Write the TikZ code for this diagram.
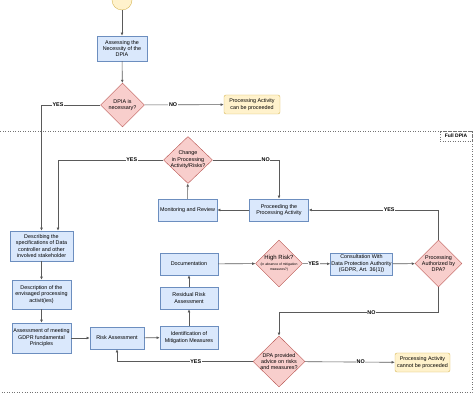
\documentclass[tikz,border=0pt]{standalone}
\usepackage{fontspec}
\setmainfont{Liberation Sans}
\usetikzlibrary{shapes.geometric,arrows.meta}
\definecolor{boxfill}{RGB}{218,232,252}
\definecolor{boxline}{RGB}{108,142,191}
\definecolor{decfill}{RGB}{248,206,204}
\definecolor{decline}{RGB}{184,84,80}
\definecolor{yelfill}{RGB}{255,242,204}
\definecolor{yelline}{RGB}{214,182,86}
\definecolor{linegray}{RGB}{90,90,90}
\tikzset{
  box/.style   ={rectangle, draw=boxline, fill=boxfill, align=center, inner sep=1pt,
                 minimum width=58pt, minimum height=22pt},
  ybox/.style  ={rectangle, rounded corners=2pt, draw=yelline, fill=yelfill, align=center,
                 inner sep=1pt, minimum width=56pt, minimum height=19pt},
  dec/.style   ={diamond, aspect=1, draw=decline, fill=decfill, align=center, inner sep=-6pt},
  flow/.style  ={-{Latex[length=3.2pt,width=2.8pt]}, line width=0.6pt, draw=linegray},
  lbl/.style   ={font=\fontsize{5.4}{6}\selectfont\bfseries, fill=white, inner sep=0.6pt},
  frame/.style ={dotted, draw=black!55, line width=0.5pt}
}
\begin{document}
\begin{tikzpicture}[x=1pt, y=-1pt, font=\fontsize{5.4}{6.4}\selectfont]
\useasboundingbox (0,0) rectangle (474,395);
% necessity check
\node[ellipse, draw=yelline, fill=yelfill, minimum width=20pt, minimum height=20pt] (start) at (122,0) {};
\node[box, minimum width=50pt, minimum height=25pt] (assess) at (122,48.5) {Assessing the\\Necessity of the\\DPIA};
\node[dec, minimum width=44pt, minimum height=44pt] (dpia) at (122.5,105) {DPIA is\\necessary?};
\node[ybox] (canproc) at (252,104.5) {Processing Activity\\can be proceeded};
\draw[flow] (start) -- (assess);
\draw[flow] (assess) -- (dpia);
\draw[flow] (dpia) -- node[lbl, pos=0.36]{NO} (canproc);

% full dpia
\draw[frame] (-2,131) rectangle (472,392);
\node[frame, draw, rectangle, minimum width=32pt, minimum height=10pt, inner sep=0pt,
      font=\fontsize{5}{6}\selectfont\bfseries] (fulldpia) at (456,136) {Full DPIA};

\node[box, minimum width=63pt, minimum height=30pt] (describe) at (41.5,246) {Describing the\\specifications of Data\\controller and other\\involved stakeholder};
\node[box, minimum width=59pt, minimum height=29pt] (envis) at (41.5,294.5) {Description of the\\envisaged processing\\activit(ies)};
\node[box, minimum width=59pt, minimum height=30pt] (gdpr) at (41.5,338) {Assessment of meeting\\GDPR fundamental\\Principles};
\node[box, minimum width=54pt] (risk) at (117,338) {Risk Assessment};
\node[box, minimum height=23pt] (mitig) at (189,337.5) {Identification of\\Mitigation Measures};
\node[box] (resid) at (189,298) {Residual Risk\\Assessment};
\node[box] (doc) at (189,264) {Documentation};
\node[dec, minimum width=47pt, minimum height=47pt] (high) at (279,263.5)
  {{\fontsize{6}{7}\selectfont High Risk?}\\[-0.5pt]{\fontsize{3.4}{4.2}\selectfont (in absence of mitigation}\\[-1pt]{\fontsize{3.4}{4.2}\selectfont measures?)}};
\node[box, minimum width=59pt] (consult) at (361.5,264) {Consultation With\\Data Protection Authority\\(GDPR, Art. 36(1))};
\node[dec, minimum width=47pt, minimum height=47pt] (auth) at (438.5,263.5) {Processing\\Authorized by\\DPA?};
\node[dec, minimum width=52pt, minimum height=51pt] (advice) at (279,361.5) {DPA provided\\advice on risks\\and measures?};
\node[ybox, minimum width=55pt] (cannot) at (422.5,362.5) {Processing Activity\\cannot be proceeded};

% monitoring loop
\node[dec, minimum width=49pt, minimum height=47pt] (change) at (188,160) {Change\\in Processing\\Activity/Risks?};
\node[box, minimum width=59pt] (monitor) at (187.5,210) {Monitoring and Review};
\node[box, minimum width=59pt] (proceed) at (279,210) {Proceeding the\\Processing Activity};

\draw[flow] (dpia.west) -| node[lbl, pos=0.36]{YES} (describe.north);
\draw[flow] (change.west) -| node[lbl, pos=0.15]{YES} ([xshift=16.5pt]describe.north);
\draw[flow] (change.east) -| node[lbl, pos=0.4]{NO} (proceed.north);
\draw[flow] (monitor) -- (change);
\draw[flow] (proceed) -- (monitor);
\draw[flow] (auth.north) |- node[lbl, pos=0.69]{YES} (proceed.east);
\draw[flow] (describe) -- (envis);
\draw[flow] (envis) -- (gdpr);
\draw[flow] (gdpr) -- (risk);
\draw[flow] (risk) -- (mitig);
\draw[flow] (mitig) -- (resid);
\draw[flow] (resid) -- (doc);
\draw[flow] (doc) -- (high);
\draw[flow] (high) -- node[lbl, pos=0.4]{YES} (consult);
\draw[flow] (consult) -- (auth);
\draw[flow] (auth.south) -- ++(0,25) -| node[lbl, pos=0.21]{NO} (advice.north);
\draw[flow] (advice) -- node[lbl, pos=0.62]{NO} (cannot);
\draw[flow] (advice.west) -| node[lbl, pos=0.21]{YES} (risk.south);
\end{tikzpicture}
\end{document}
